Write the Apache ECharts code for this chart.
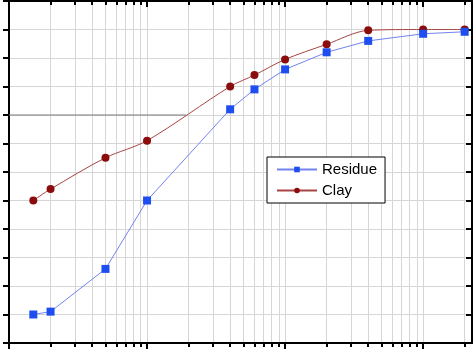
<!DOCTYPE html>
<html>
<head>
<meta charset="utf-8">
<script src="https://cdn.jsdelivr.net/npm/echarts@6/dist/echarts.min.js"></script>
<style>
html, body { margin: 0; padding: 0; background: #fff; }
#chart { width: 474px; height: 351px; }
</style>
</head>
<body>
<div id="chart"></div>
<script>
// grain sizes (log axis) and cumulative percent passing
var sizes = [1.5, 2, 5, 10, 40, 60, 100, 200, 400, 1000, 2000];
var residue = [0, 1, 16, 40, 72, 79, 86, 92, 96, 98.5, 99.2];
var clay = [40, 44, 55, 61, 80, 84, 89.5, 94.8, 99.7, 100, 100];

// reference level line (drawn to where clay crosses it)
var refX = [1, 19.2];
var refY = [70, 70];

var majorTicks = [1, 10, 100, 1000];
var minorTicks = [2, 3, 4, 5, 6, 7, 8, 9,
    20, 30, 40, 50, 60, 70, 80, 90,
    200, 300, 400, 500, 600, 700, 800, 900, 2000];

var xMin = 1, xMax = 2260;
var gridColor = '#d6d6d6';

var chart = echarts.init(document.getElementById('chart'));

function pairs(xs, ys) {
    return xs.map(function (x, i) { return [x, ys[i]]; });
}

function xAx(pos, ticks, len, inside, showLine, split) {
    return {
        type: 'log',
        logBase: 10,
        position: pos,
        min: xMin,
        max: xMax,
        axisLine: { show: showLine, onZero: false, lineStyle: { color: '#000', width: 2 } },
        axisTick: { show: true, customValues: ticks, inside: inside, length: len,
            lineStyle: { color: '#000', width: 2 } },
        axisLabel: { show: false },
        splitLine: { show: split, lineStyle: { color: gridColor, width: 1 } },
        minorTick: { show: false },
        minorSplitLine: { show: false }
    };
}

function yAx(pos, inside, split) {
    return {
        type: 'value',
        position: pos,
        min: -10,
        max: 110,
        interval: 10,
        axisLine: { show: true, onZero: false, lineStyle: { color: '#000', width: 2 } },
        axisTick: { show: true, inside: inside, length: 6, lineStyle: { color: '#000', width: 2 } },
        axisLabel: { show: false },
        splitLine: { show: split, lineStyle: { color: gridColor, width: 1 } }
    };
}

var option = {
    animation: false,
    backgroundColor: '#fff',
    grid: { left: 9, right: 2, top: 1, bottom: 8, containLabel: false },
    legend: {
        data: ['Residue', 'Clay'],
        orient: 'vertical',
        left: 267,
        top: 157,
        padding: [5, 8, 5, 9],
        itemGap: 6,
        itemWidth: 40,
        itemHeight: 7,
        backgroundColor: '#fff',
        borderColor: '#000',
        borderWidth: 1,
        textStyle: { fontFamily: 'Liberation Sans, Arial, sans-serif', fontSize: 15, color: '#000' }
    },
    xAxis: [
        xAx('bottom', majorTicks, 6, false, true, true),
        xAx('bottom', minorTicks, 4, false, false, true),
        xAx('top', majorTicks, 6, true, true, false),
        xAx('top', minorTicks, 4, true, false, false)
    ],
    yAxis: [
        yAx('left', false, true),
        yAx('right', true, false)
    ],
    series: [
        {
            name: 'ref',
            type: 'line',
            data: pairs(refX, refY),
            symbol: 'none',
            silent: true,
            lineStyle: { color: '#7a7a7a', width: 1 },
            z: 2
        },
        {
            name: 'Residue',
            type: 'line',
            data: pairs(sizes, residue),
            symbol: 'rect',
            symbolSize: 8,
            itemStyle: { color: '#1f4ef0' },
            lineStyle: { color: '#7383f0', width: 1 },
            z: 4
        },
        {
            name: 'Clay',
            type: 'line',
            data: pairs(sizes, clay),
            symbol: 'circle',
            symbolSize: 8,
            smooth: 0.3,
            itemStyle: { color: '#8a0c0c' },
            lineStyle: { color: '#a84545', width: 1 },
            z: 3
        }
    ]
};

chart.setOption(option);
</script>
</body>
</html>
